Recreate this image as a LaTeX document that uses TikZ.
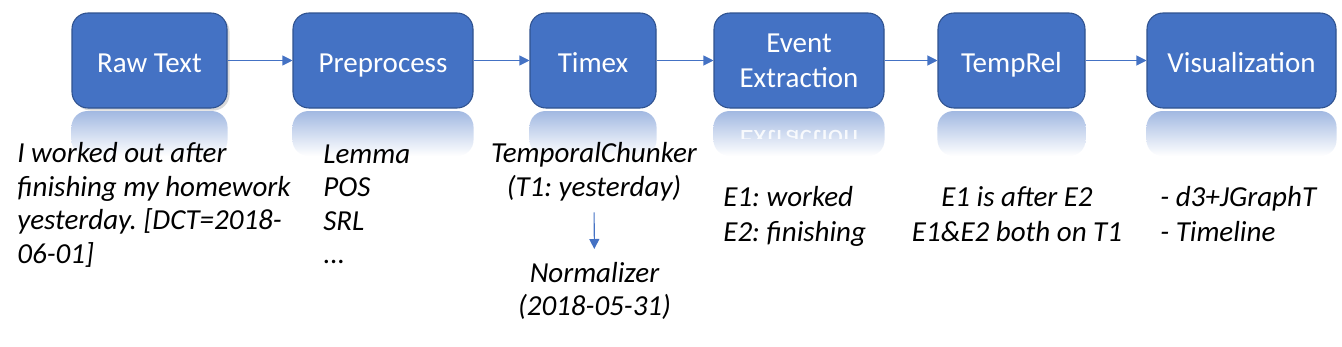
\documentclass[tikz,border=0pt]{standalone}
\usepackage{fontspec}
\setmainfont{Carlito}
\usepackage{tikz}
\usepackage{xcolor}
\usetikzlibrary{arrows.meta, positioning, calc, shadows}

\definecolor{boxblue}{HTML}{4472C4}
\definecolor{boxedge}{HTML}{2F528F}

\tikzset{
  stage/.style={draw=boxedge, fill=boxblue, line width=0.6pt, rounded corners=0.32cm,
    minimum height=1.9cm, align=center, text=white, font=\fontsize{16.5}{19.9}\selectfont},
  oneline/.style={stage, text height=0.5cm, text depth=0.04cm},
  mirror/.style={top color=boxblue!50!white, bottom color=white, rounded corners=0.32cm},
  flow/.style={draw=boxblue, line width=0.6pt, -{Triangle[length=0.2cm, width=0.2cm]}},
  note/.style={inner sep=0pt, font=\fontsize{16.5}{19}\selectfont\itshape}
}

\begin{document}
\frenchspacing
\begin{tikzpicture}

\useasboundingbox (0,0) rectangle (26.84,6.92);

% pipeline stages
\node[oneline, minimum width=3.10cm, drop shadow={opacity=0.3, shadow xshift=0.05cm, shadow yshift=-0.05cm}] (raw) at (2.99,5.71) {Raw Text};
\node[oneline, minimum width=3.60cm] (prep) at (7.66,5.71) {Preprocess};
\node[oneline, minimum width=2.52cm] (timex) at (11.86,5.71) {Timex};
\node[stage, minimum width=3.40cm] (event) at (15.98,5.71) {Event\\Extraction};
\node[oneline, minimum width=2.94cm] (temprel) at (20.23,5.71) {TempRel};
\node[oneline, minimum width=3.78cm] (vis) at (24.83,5.71) {Visualization};

% reflections
\shade[mirror] ($(raw.south west)+(0,-0.05)$) rectangle ($(raw.south east)+(0,-0.95)$);
\shade[mirror] ($(prep.south west)+(0,-0.05)$) rectangle ($(prep.south east)+(0,-0.95)$);
\shade[mirror] ($(timex.south west)+(0,-0.05)$) rectangle ($(timex.south east)+(0,-0.95)$);
\shade[mirror] ($(event.south west)+(0,-0.05)$) rectangle ($(event.south east)+(0,-0.95)$);
\shade[mirror] ($(temprel.south west)+(0,-0.05)$) rectangle ($(temprel.south east)+(0,-0.95)$);
\shade[mirror] ($(vis.south west)+(0,-0.05)$) rectangle ($(vis.south east)+(0,-0.95)$);

\begin{scope}
\clip ($(event.south west)+(0,-0.05)$) rectangle ($(event.south east)+(0,-0.60)$);
\node[transform shape, yscale=-1, text=white, opacity=0.85, font=\fontsize{16.5}{19.9}\selectfont, anchor=base] (eventmirror) at (15.98,4.32) {Extraction};
\end{scope}

% flow between stages
\draw[flow] (raw.east) -- (prep.west);
\draw[flow] (prep.east) -- (timex.west);
\draw[flow] (timex.east) -- (event.west);
\draw[flow] (event.east) -- (temprel.west);
\draw[flow] (temprel.east) -- (vis.west);

% notes under the stages
\node[note, anchor=north west, align=left] (rawtxt) at (0.34,4.07)
{I worked out after\\finishing my homework\\yesterday. [DCT=2018-\\06-01]};

\node[note, anchor=north west, align=left] (preptxt) at (6.46,4.03)
{Lemma\\POS\\SRL\\...};

\node[note, anchor=north, align=center] (chunk) at (11.88,4.07)
{TemporalChunker\\(T1: yesterday)};

\node[note, anchor=north, align=center] (norm) at (11.89,1.68)
{Normalizer\\(2018-05-31)};

\draw[flow, shorten <=0.22cm, shorten >=0.26cm] (chunk) -- (norm);

\node[note, anchor=north west, align=left, font=\fontsize{16.5}{20}\selectfont\itshape] (eventtxt) at (14.46,3.20)
{E1: worked\\E2: finishing};

\node[note, anchor=north, align=center, font=\fontsize{16.5}{20}\selectfont\itshape] (reltxt) at (20.34,3.20)
{E1 is after E2\\E1\&E2 both on T1};

\node[note, anchor=north west, align=left, font=\fontsize{16.5}{20}\selectfont\itshape] (vistxt) at (23.20,3.20)
{- d3+JGraphT\\- Timeline};

\end{tikzpicture}
\end{document}
